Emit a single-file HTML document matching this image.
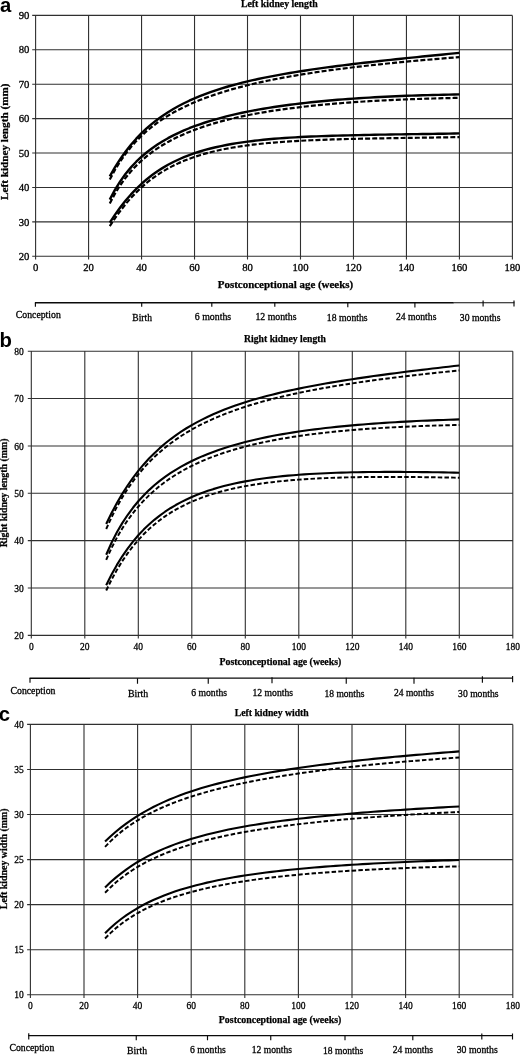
<!DOCTYPE html>
<html lang="en"><head><meta charset="utf-8"><title>Kidney growth charts</title>
<style>
html,body{margin:0;padding:0;background:#fff}
body{width:520px;height:1055px;overflow:hidden}
svg{display:block}
.t{font-family:"Liberation Serif",serif;font-size:10.7px;fill:#000;stroke:#000;stroke-width:.3px}
.t2{font-family:"Liberation Serif",serif;font-size:10.3px;fill:#000;stroke:#000;stroke-width:.3px}
.b{font-family:"Liberation Serif",serif;font-weight:bold;font-size:10.2px;fill:#000;stroke:#000;stroke-width:.25px}
.L{font-family:"Liberation Sans",sans-serif;font-weight:bold;font-size:20.3px;fill:#000}
.cs{fill:none;stroke:#000;stroke-width:1.95;stroke-linejoin:round}
.cd{fill:none;stroke:#000;stroke-width:1.75;stroke-dasharray:4.3 2.4;stroke-linejoin:round}
</style></head><body>
<svg width="520" height="1055" viewBox="0 0 520 1055">
<rect width="520" height="1055" fill="#fff"/>
<g id="chart-a">
<path d="M35.6 15.4V259.5M88.58 15.4V259.5M141.56 15.4V259.5M194.53 15.4V259.5M247.51 15.4V259.5M300.49 15.4V259.5M353.47 15.4V259.5M406.44 15.4V259.5M459.42 15.4V259.5M512.4 15.4V259.5M32.2 256.3H512.4M32.2 221.89H512.4M32.2 187.47H512.4M32.2 153.06H512.4M32.2 118.64H512.4M32.2 84.23H512.4M32.2 49.81H512.4M32.2 15.4H512.4" fill="none" stroke="#303030" stroke-width="1.1"/>
<text class="t" x="18.7" y="259.95" textLength="10.7" lengthAdjust="spacingAndGlyphs">20</text>
<text class="t" x="18.7" y="225.54" textLength="10.7" lengthAdjust="spacingAndGlyphs">30</text>
<text class="t" x="18.7" y="191.12" textLength="10.7" lengthAdjust="spacingAndGlyphs">40</text>
<text class="t" x="18.7" y="156.71" textLength="10.7" lengthAdjust="spacingAndGlyphs">50</text>
<text class="t" x="18.7" y="122.29" textLength="10.7" lengthAdjust="spacingAndGlyphs">60</text>
<text class="t" x="18.7" y="87.88" textLength="10.7" lengthAdjust="spacingAndGlyphs">70</text>
<text class="t" x="18.7" y="53.46" textLength="10.7" lengthAdjust="spacingAndGlyphs">80</text>
<text class="t" x="18.7" y="19.05" textLength="10.7" lengthAdjust="spacingAndGlyphs">90</text>
<text class="t" x="32.93" y="270.9" textLength="5.35" lengthAdjust="spacingAndGlyphs">0</text>
<text class="t" x="83.23" y="270.9" textLength="10.7" lengthAdjust="spacingAndGlyphs">20</text>
<text class="t" x="136.21" y="270.9" textLength="10.7" lengthAdjust="spacingAndGlyphs">40</text>
<text class="t" x="189.18" y="270.9" textLength="10.7" lengthAdjust="spacingAndGlyphs">60</text>
<text class="t" x="242.16" y="270.9" textLength="10.7" lengthAdjust="spacingAndGlyphs">80</text>
<text class="t" x="292.46" y="270.9" textLength="16.05" lengthAdjust="spacingAndGlyphs">100</text>
<text class="t" x="345.44" y="270.9" textLength="16.05" lengthAdjust="spacingAndGlyphs">120</text>
<text class="t" x="398.42" y="270.9" textLength="16.05" lengthAdjust="spacingAndGlyphs">140</text>
<text class="t" x="451.4" y="270.9" textLength="16.05" lengthAdjust="spacingAndGlyphs">160</text>
<text class="t" x="504.38" y="270.9" textLength="16.05" lengthAdjust="spacingAndGlyphs">180</text>
<text class="b" x="240.9" y="6.8" textLength="76.8" lengthAdjust="spacingAndGlyphs">Left kidney length</text>
<text class="b" x="217.8" y="287.9" textLength="135.4" lengthAdjust="spacingAndGlyphs">Postconceptional age (weeks)</text>
<text class="b" transform="translate(7.8 200) rotate(-90)" textLength="116.5" lengthAdjust="spacingAndGlyphs">Left kidney length (mm)</text>
<text class="L" x="0" y="12.1">a</text>
<polyline class="cs" style="stroke-width:2.4" points="109.77,176.47 115.07,167.22 120.36,158.93 125.66,151.47 130.96,144.76 136.26,138.69 141.56,133.2 146.85,128.21 152.15,123.66 157.45,119.51 162.75,115.71 168.04,112.21 173.34,108.99 178.64,106.02 183.94,103.27 189.24,100.72 194.53,98.35 199.83,96.14 205.13,94.07 210.43,92.14 215.72,90.33 221.02,88.62 226.32,87.02 231.62,85.5 236.92,84.07 242.21,82.71 247.51,81.42 252.81,80.19 258.11,79.03 263.4,77.91 268.7,76.84 274,75.82 279.3,74.84 284.6,73.9 289.89,72.99 295.19,72.12 300.49,71.27 305.79,70.46 311.08,69.67 316.38,68.9 321.68,68.15 326.98,67.43 332.28,66.72 337.57,66.03 342.87,65.36 348.17,64.7 353.47,64.06 358.76,63.42 364.06,62.8 369.36,62.2 374.66,61.6 379.96,61.01 385.25,60.43 390.55,59.85 395.85,59.29 401.15,58.73 406.44,58.18 411.74,57.63 417.04,57.09 422.34,56.55 427.64,56.02 432.93,55.49 438.23,54.97 443.53,54.45 448.83,53.93 454.12,53.42 459.42,52.9"/>
<polyline class="cd" style="stroke-width:2.2;stroke-dasharray:5 2.1" points="109.77,179.59 115.07,169.76 120.36,161.21 125.66,153.7 130.96,147.06 136.26,141.13 141.56,135.81 146.85,131.01 152.15,126.65 157.45,122.67 162.75,119.03 168.04,115.68 173.34,112.58 178.64,109.72 183.94,107.06 189.24,104.58 194.53,102.26 199.83,100.08 205.13,98.04 210.43,96.12 215.72,94.31 221.02,92.6 226.32,90.97 231.62,89.43 236.92,87.97 242.21,86.58 247.51,85.25 252.81,83.98 258.11,82.77 263.4,81.61 268.7,80.5 274,79.44 279.3,78.41 284.6,77.43 289.89,76.48 295.19,75.56 300.49,74.68 305.79,73.83 311.08,73 316.38,72.21 321.68,71.44 326.98,70.69 332.28,69.96 337.57,69.26 342.87,68.58 348.17,67.92 353.47,67.27 358.76,66.64 364.06,66.03 369.36,65.43 374.66,64.85 379.96,64.29 385.25,63.73 390.55,63.19 395.85,62.66 401.15,62.15 406.44,61.64 411.74,61.15 417.04,60.67 422.34,60.19 427.64,59.73 432.93,59.27 438.23,58.83 443.53,58.39 448.83,57.96 454.12,57.54 459.42,57.12"/>
<polyline class="cs" style="stroke-width:2.4" points="109.77,199.58 115.07,189.62 120.36,181.12 125.66,173.78 130.96,167.38 136.26,161.73 141.56,156.72 146.85,152.24 152.15,148.2 157.45,144.55 162.75,141.22 168.04,138.18 173.34,135.39 178.64,132.82 183.94,130.44 189.24,128.24 194.53,126.19 199.83,124.29 205.13,122.5 210.43,120.84 215.72,119.28 221.02,117.81 226.32,116.43 231.62,115.13 236.92,113.91 242.21,112.75 247.51,111.66 252.81,110.63 258.11,109.65 263.4,108.72 268.7,107.85 274,107.02 279.3,106.23 284.6,105.48 289.89,104.77 295.19,104.1 300.49,103.46 305.79,102.85 311.08,102.28 316.38,101.73 321.68,101.21 326.98,100.71 332.28,100.25 337.57,99.8 342.87,99.38 348.17,98.98 353.47,98.6 358.76,98.24 364.06,97.91 369.36,97.59 374.66,97.28 379.96,97 385.25,96.73 390.55,96.48 395.85,96.24 401.15,96.02 406.44,95.81 411.74,95.61 417.04,95.43 422.34,95.26 427.64,95.11 432.93,94.96 438.23,94.83 443.53,94.71 448.83,94.6 454.12,94.5 459.42,94.41"/>
<polyline class="cd" style="stroke-width:2.2;stroke-dasharray:5 2.1" points="109.77,203.42 115.07,193.53 120.36,185.05 125.66,177.72 130.96,171.3 136.26,165.64 141.56,160.6 146.85,156.09 152.15,152.02 157.45,148.34 162.75,144.99 168.04,141.92 173.34,139.11 178.64,136.52 183.94,134.13 189.24,131.91 194.53,129.85 199.83,127.93 205.13,126.14 210.43,124.47 215.72,122.9 221.02,121.43 226.32,120.05 231.62,118.75 236.92,117.52 242.21,116.36 247.51,115.27 252.81,114.24 258.11,113.26 263.4,112.34 268.7,111.46 274,110.63 279.3,109.85 284.6,109.1 289.89,108.39 295.19,107.72 300.49,107.08 305.79,106.47 311.08,105.9 316.38,105.35 321.68,104.83 326.98,104.34 332.28,103.87 337.57,103.42 342.87,103 348.17,102.6 353.47,102.22 358.76,101.85 364.06,101.51 369.36,101.19 374.66,100.88 379.96,100.59 385.25,100.32 390.55,100.06 395.85,99.81 401.15,99.58 406.44,99.37 411.74,99.16 417.04,98.98 422.34,98.8 427.64,98.63 432.93,98.48 438.23,98.33 443.53,98.2 448.83,98.08 454.12,97.97 459.42,97.87"/>
<polyline class="cs" style="stroke-width:2.4" points="109.77,222.56 115.07,214.64 120.36,207.29 125.66,200.56 130.96,194.42 136.26,188.84 141.56,183.78 146.85,179.19 152.15,175.04 157.45,171.28 162.75,167.88 168.04,164.8 173.34,162.01 178.64,159.48 183.94,157.18 189.24,155.1 194.53,153.21 199.83,151.5 205.13,149.94 210.43,148.52 215.72,147.23 221.02,146.06 226.32,145 231.62,144.03 236.92,143.14 242.21,142.34 247.51,141.61 252.81,140.94 258.11,140.33 263.4,139.78 268.7,139.28 274,138.82 279.3,138.4 284.6,138.02 289.89,137.67 295.19,137.35 300.49,137.06 305.79,136.8 311.08,136.55 316.38,136.33 321.68,136.13 326.98,135.94 332.28,135.77 337.57,135.61 342.87,135.46 348.17,135.33 353.47,135.2 358.76,135.08 364.06,134.97 369.36,134.87 374.66,134.77 379.96,134.67 385.25,134.58 390.55,134.5 395.85,134.41 401.15,134.33 406.44,134.25 411.74,134.17 417.04,134.09 422.34,134.01 427.64,133.93 432.93,133.85 438.23,133.76 443.53,133.68 448.83,133.6 454.12,133.51 459.42,133.42"/>
<polyline class="cd" style="stroke-width:2.2;stroke-dasharray:5 2.1" points="109.77,226.13 115.07,218.15 120.36,210.78 125.66,204.04 130.96,197.91 136.26,192.34 141.56,187.3 146.85,182.73 152.15,178.6 157.45,174.86 162.75,171.48 168.04,168.42 173.34,165.64 178.64,163.13 183.94,160.85 189.24,158.78 194.53,156.9 199.83,155.19 205.13,153.64 210.43,152.23 215.72,150.95 221.02,149.78 226.32,148.72 231.62,147.75 236.92,146.87 242.21,146.07 247.51,145.34 252.81,144.67 258.11,144.06 263.4,143.51 268.7,143 274,142.54 279.3,142.12 284.6,141.74 289.89,141.39 295.19,141.07 300.49,140.77 305.79,140.51 311.08,140.26 316.38,140.04 321.68,139.83 326.98,139.64 332.28,139.47 337.57,139.31 342.87,139.16 348.17,139.02 353.47,138.89 358.76,138.77 364.06,138.66 369.36,138.56 374.66,138.46 379.96,138.36 385.25,138.27 390.55,138.18 395.85,138.1 401.15,138.01 406.44,137.93 411.74,137.85 417.04,137.77 422.34,137.69 427.64,137.62 432.93,137.54 438.23,137.46 443.53,137.37 448.83,137.29 454.12,137.21 459.42,137.12"/>
<path d="M34.9 302.7H453.8" stroke="#0a0a0a" stroke-width="1.6" fill="none"/>
<path d="M453.8 302.7H514.4" stroke="#0a0a0a" stroke-width="1.15" fill="none"/>
<path d="M35.4 302.7V306.7M141.7 302.7V306.7M211.8 302.2V306.7M274.8 302.2V306.7M347.8 302.2V307.2M414.9 302.2V307.5M483.1 300.5V306.5M514 300.5V306.5" stroke="#0a0a0a" stroke-width="1.15" fill="none"/>
<text class="t2" x="15.8" y="318" textLength="45" lengthAdjust="spacingAndGlyphs">Conception</text>
<text class="t2" x="132.3" y="320.6" textLength="19.6" lengthAdjust="spacingAndGlyphs">Birth</text>
<text class="t2" x="194.8" y="320" textLength="36.4" lengthAdjust="spacingAndGlyphs">6 months</text>
<text class="t2" x="255.4" y="320" textLength="41.2" lengthAdjust="spacingAndGlyphs">12 months</text>
<text class="t2" x="326.8" y="321.3" textLength="40.8" lengthAdjust="spacingAndGlyphs">18 months</text>
<text class="t2" x="395.9" y="320.4" textLength="40.5" lengthAdjust="spacingAndGlyphs">24 months</text>
<text class="t2" x="459.8" y="321" textLength="40.7" lengthAdjust="spacingAndGlyphs">30 months</text>
</g>
<g id="chart-b">
<path d="M31.3 351.2V638.6M84.8 351.2V638.6M138.3 351.2V638.6M191.8 351.2V638.6M245.3 351.2V638.6M298.8 351.2V638.6M352.3 351.2V638.6M405.8 351.2V638.6M459.3 351.2V638.6M512.8 351.2V638.6M27.8 635.4H512.8M27.8 588.03H512.8M27.8 540.67H512.8M27.8 493.3H512.8M27.8 445.93H512.8M27.8 398.57H512.8M27.8 351.2H512.8" fill="none" stroke="#303030" stroke-width="1.1"/>
<text class="t" x="14.2" y="639.05" textLength="9.5" lengthAdjust="spacingAndGlyphs">20</text>
<text class="t" x="14.2" y="591.68" textLength="9.5" lengthAdjust="spacingAndGlyphs">30</text>
<text class="t" x="14.2" y="544.32" textLength="9.5" lengthAdjust="spacingAndGlyphs">40</text>
<text class="t" x="14.2" y="496.95" textLength="9.5" lengthAdjust="spacingAndGlyphs">50</text>
<text class="t" x="14.2" y="449.58" textLength="9.5" lengthAdjust="spacingAndGlyphs">60</text>
<text class="t" x="14.2" y="402.22" textLength="9.5" lengthAdjust="spacingAndGlyphs">70</text>
<text class="t" x="14.2" y="354.85" textLength="9.5" lengthAdjust="spacingAndGlyphs">80</text>
<text class="t" x="28.93" y="649.8" textLength="4.75" lengthAdjust="spacingAndGlyphs">0</text>
<text class="t" x="80.05" y="649.8" textLength="9.5" lengthAdjust="spacingAndGlyphs">20</text>
<text class="t" x="133.55" y="649.8" textLength="9.5" lengthAdjust="spacingAndGlyphs">40</text>
<text class="t" x="187.05" y="649.8" textLength="9.5" lengthAdjust="spacingAndGlyphs">60</text>
<text class="t" x="240.55" y="649.8" textLength="9.5" lengthAdjust="spacingAndGlyphs">80</text>
<text class="t" x="291.68" y="649.8" textLength="14.25" lengthAdjust="spacingAndGlyphs">100</text>
<text class="t" x="345.18" y="649.8" textLength="14.25" lengthAdjust="spacingAndGlyphs">120</text>
<text class="t" x="398.68" y="649.8" textLength="14.25" lengthAdjust="spacingAndGlyphs">140</text>
<text class="t" x="452.18" y="649.8" textLength="14.25" lengthAdjust="spacingAndGlyphs">160</text>
<text class="t" x="505.67" y="649.8" textLength="14.25" lengthAdjust="spacingAndGlyphs">180</text>
<text class="b" x="244.1" y="341.8" textLength="81.8" lengthAdjust="spacingAndGlyphs">Right kidney length</text>
<text class="b" x="219.5" y="664.9" textLength="121.8" lengthAdjust="spacingAndGlyphs">Postconceptional age (weeks)</text>
<text class="b" transform="translate(7.1 547.3) rotate(-90)" textLength="108.8" lengthAdjust="spacingAndGlyphs">Right kidney length (mm)</text>
<text class="L" x="-0.6" y="347">b</text>
<polyline class="cs" style="stroke-width:2.1" points="106.2,523.98 111.55,513.06 116.9,503.04 122.25,493.89 127.6,485.52 132.95,477.87 138.3,470.87 143.65,464.45 149,458.57 154.35,453.15 159.7,448.16 165.05,443.55 170.4,439.29 175.75,435.34 181.1,431.67 186.45,428.26 191.8,425.07 197.15,422.1 202.5,419.32 207.85,416.71 213.2,414.26 218.55,411.96 223.9,409.78 229.25,407.73 234.6,405.79 239.95,403.95 245.3,402.21 250.65,400.56 256,398.98 261.35,397.48 266.7,396.04 272.05,394.67 277.4,393.36 282.75,392.1 288.1,390.89 293.45,389.73 298.8,388.61 304.15,387.52 309.5,386.48 314.85,385.47 320.2,384.5 325.55,383.55 330.9,382.63 336.25,381.74 341.6,380.87 346.95,380.02 352.3,379.2 357.65,378.39 363,377.61 368.35,376.84 373.7,376.08 379.05,375.34 384.4,374.62 389.75,373.9 395.1,373.2 400.45,372.51 405.8,371.83 411.15,371.16 416.5,370.5 421.85,369.85 427.2,369.2 432.55,368.56 437.9,367.93 443.25,367.31 448.6,366.69 453.95,366.08 459.3,365.47"/>
<polyline class="cd" style="stroke-width:1.95;stroke-dasharray:4.5 2.2" points="106.2,528.98 111.55,517.25 116.9,506.79 122.25,497.41 127.6,488.97 132.95,481.34 138.3,474.41 143.65,468.1 149,462.33 154.35,457.03 159.7,452.16 165.05,447.66 170.4,443.5 175.75,439.64 181.1,436.04 186.45,432.69 191.8,429.56 197.15,426.62 202.5,423.87 207.85,421.28 213.2,418.84 218.55,416.54 223.9,414.37 229.25,412.31 234.6,410.35 239.95,408.5 245.3,406.73 250.65,405.05 256,403.45 261.35,401.92 266.7,400.46 272.05,399.06 277.4,397.72 282.75,396.43 288.1,395.19 293.45,394 298.8,392.86 304.15,391.76 309.5,390.69 314.85,389.67 320.2,388.68 325.55,387.72 330.9,386.79 336.25,385.89 341.6,385.02 346.95,384.17 352.3,383.35 357.65,382.55 363,381.77 368.35,381.01 373.7,380.28 379.05,379.56 384.4,378.86 389.75,378.17 395.1,377.51 400.45,376.85 405.8,376.21 411.15,375.59 416.5,374.98 421.85,374.38 427.2,373.79 432.55,373.21 437.9,372.65 443.25,372.09 448.6,371.55 453.95,371.01 459.3,370.48"/>
<polyline class="cs" style="stroke-width:2.1" points="106.2,554.78 111.55,542.78 116.9,532.33 122.25,523.14 127.6,515.01 132.95,507.77 138.3,501.27 143.65,495.42 149,490.12 154.35,485.31 159.7,480.91 165.05,476.89 170.4,473.19 175.75,469.79 181.1,466.64 186.45,463.73 191.8,461.02 197.15,458.51 202.5,456.16 207.85,453.98 213.2,451.93 218.55,450.01 223.9,448.22 229.25,446.53 234.6,444.94 239.95,443.45 245.3,442.04 250.65,440.71 256,439.46 261.35,438.27 266.7,437.15 272.05,436.09 277.4,435.09 282.75,434.14 288.1,433.23 293.45,432.38 298.8,431.56 304.15,430.79 309.5,430.06 314.85,429.36 320.2,428.7 325.55,428.07 330.9,427.48 336.25,426.91 341.6,426.37 346.95,425.85 352.3,425.36 357.65,424.9 363,424.45 368.35,424.03 373.7,423.63 379.05,423.25 384.4,422.89 389.75,422.54 395.1,422.22 400.45,421.91 405.8,421.61 411.15,421.33 416.5,421.07 421.85,420.82 427.2,420.58 432.55,420.36 437.9,420.14 443.25,419.94 448.6,419.76 453.95,419.58 459.3,419.41"/>
<polyline class="cd" style="stroke-width:1.95;stroke-dasharray:4.5 2.2" points="106.2,559.78 111.55,547.96 116.9,537.61 122.25,528.48 127.6,520.37 132.95,513.11 138.3,506.59 143.65,500.7 149,495.36 154.35,490.49 159.7,486.04 165.05,481.96 170.4,478.21 175.75,474.75 181.1,471.55 186.45,468.58 191.8,465.83 197.15,463.27 202.5,460.88 207.85,458.65 213.2,456.57 218.55,454.62 223.9,452.79 229.25,451.08 234.6,449.47 239.95,447.95 245.3,446.53 250.65,445.18 256,443.92 261.35,442.72 266.7,441.6 272.05,440.53 277.4,439.53 282.75,438.58 288.1,437.68 293.45,436.83 298.8,436.03 304.15,435.27 309.5,434.55 314.85,433.87 320.2,433.23 325.55,432.62 330.9,432.04 336.25,431.5 341.6,430.98 346.95,430.49 352.3,430.03 357.65,429.6 363,429.19 368.35,428.8 373.7,428.44 379.05,428.1 384.4,427.77 389.75,427.47 395.1,427.18 400.45,426.92 405.8,426.67 411.15,426.43 416.5,426.22 421.85,426.01 427.2,425.83 432.55,425.65 437.9,425.49 443.25,425.35 448.6,425.21 453.95,425.09 459.3,424.98"/>
<polyline class="cs" style="stroke-width:2.1" points="106.2,585.18 111.55,574.49 116.9,564.9 122.25,556.28 127.6,548.54 132.95,541.57 138.3,535.28 143.65,529.6 149,524.47 154.35,519.81 159.7,515.58 165.05,511.73 170.4,508.23 175.75,505.04 181.1,502.12 186.45,499.45 191.8,497.01 197.15,494.78 202.5,492.73 207.85,490.85 213.2,489.13 218.55,487.55 223.9,486.09 229.25,484.76 234.6,483.53 239.95,482.4 245.3,481.37 250.65,480.42 256,479.54 261.35,478.74 266.7,478.01 272.05,477.34 277.4,476.72 282.75,476.16 288.1,475.65 293.45,475.18 298.8,474.75 304.15,474.37 309.5,474.02 314.85,473.71 320.2,473.43 325.55,473.18 330.9,472.95 336.25,472.76 341.6,472.58 346.95,472.43 352.3,472.31 357.65,472.2 363,472.11 368.35,472.04 373.7,471.98 379.05,471.94 384.4,471.92 389.75,471.91 395.1,471.91 400.45,471.92 405.8,471.95 411.15,471.98 416.5,472.03 421.85,472.08 427.2,472.15 432.55,472.22 437.9,472.3 443.25,472.39 448.6,472.48 453.95,472.58 459.3,472.68"/>
<polyline class="cd" style="stroke-width:1.95;stroke-dasharray:4.5 2.2" points="106.2,590.55 111.55,579.64 116.9,569.89 122.25,561.16 127.6,553.33 132.95,546.3 138.3,539.97 143.65,534.26 149,529.11 154.35,524.44 159.7,520.2 165.05,516.36 170.4,512.85 175.75,509.67 181.1,506.76 186.45,504.1 191.8,501.67 197.15,499.45 202.5,497.41 207.85,495.54 213.2,493.83 218.55,492.26 223.9,490.82 229.25,489.49 234.6,488.28 239.95,487.16 245.3,486.14 250.65,485.2 256,484.34 261.35,483.55 266.7,482.83 272.05,482.17 277.4,481.56 282.75,481.01 288.1,480.51 293.45,480.05 298.8,479.63 304.15,479.26 309.5,478.92 314.85,478.61 320.2,478.34 325.55,478.1 330.9,477.88 336.25,477.69 341.6,477.53 346.95,477.39 352.3,477.27 357.65,477.16 363,477.08 368.35,477.02 373.7,476.97 379.05,476.94 384.4,476.92 389.75,476.91 395.1,476.92 400.45,476.94 405.8,476.97 411.15,477.01 416.5,477.06 421.85,477.12 427.2,477.19 432.55,477.27 437.9,477.35 443.25,477.45 448.6,477.54 453.95,477.65 459.3,477.76"/>
<path d="M29.5 678.2H90" stroke="#0a0a0a" stroke-width="1.55" fill="none"/>
<path d="M90 678.2H513" stroke="#0a0a0a" stroke-width="1.3" fill="none"/>
<path d="M30 678.2V682.8M137.5 678.2V683.7M208.25 678.2V683.7M272 677.2V683.2M346.25 677.7V683.7M414 677.7V683.7M482.4 676.2V682.7M512.6 676V682.2" stroke="#0a0a0a" stroke-width="1.15" fill="none"/>
<text class="t2" x="10.5" y="693.75" textLength="45" lengthAdjust="spacingAndGlyphs">Conception</text>
<text class="t2" x="128" y="696.75" textLength="20.25" lengthAdjust="spacingAndGlyphs">Birth</text>
<text class="t2" x="191.25" y="695.75" textLength="35.75" lengthAdjust="spacingAndGlyphs">6 months</text>
<text class="t2" x="252.5" y="695.75" textLength="40.5" lengthAdjust="spacingAndGlyphs">12 months</text>
<text class="t2" x="324.5" y="697" textLength="40" lengthAdjust="spacingAndGlyphs">18 months</text>
<text class="t2" x="394" y="695.9" textLength="39.9" lengthAdjust="spacingAndGlyphs">24 months</text>
<text class="t2" x="458.1" y="696.7" textLength="40.4" lengthAdjust="spacingAndGlyphs">30 months</text>
</g>
<g id="chart-c">
<path d="M30.4 724.4V998M84 724.4V998M137.6 724.4V998M191.2 724.4V998M244.8 724.4V998M298.4 724.4V998M352 724.4V998M405.6 724.4V998M459.2 724.4V998M512.8 724.4V998M27.1 994.8H512.8M27.1 949.73H512.8M27.1 904.67H512.8M27.1 859.6H512.8M27.1 814.53H512.8M27.1 769.47H512.8M27.1 724.4H512.8" fill="none" stroke="#303030" stroke-width="1.1"/>
<text class="t" x="14.2" y="998.45" textLength="9.5" lengthAdjust="spacingAndGlyphs">10</text>
<text class="t" x="14.2" y="953.38" textLength="9.5" lengthAdjust="spacingAndGlyphs">15</text>
<text class="t" x="14.2" y="908.32" textLength="9.5" lengthAdjust="spacingAndGlyphs">20</text>
<text class="t" x="14.2" y="863.25" textLength="9.5" lengthAdjust="spacingAndGlyphs">25</text>
<text class="t" x="14.2" y="818.18" textLength="9.5" lengthAdjust="spacingAndGlyphs">30</text>
<text class="t" x="14.2" y="773.12" textLength="9.5" lengthAdjust="spacingAndGlyphs">35</text>
<text class="t" x="14.2" y="728.05" textLength="9.5" lengthAdjust="spacingAndGlyphs">40</text>
<text class="t" x="28.02" y="1009.1" textLength="4.75" lengthAdjust="spacingAndGlyphs">0</text>
<text class="t" x="79.25" y="1009.1" textLength="9.5" lengthAdjust="spacingAndGlyphs">20</text>
<text class="t" x="132.85" y="1009.1" textLength="9.5" lengthAdjust="spacingAndGlyphs">40</text>
<text class="t" x="186.45" y="1009.1" textLength="9.5" lengthAdjust="spacingAndGlyphs">60</text>
<text class="t" x="240.05" y="1009.1" textLength="9.5" lengthAdjust="spacingAndGlyphs">80</text>
<text class="t" x="291.27" y="1009.1" textLength="14.25" lengthAdjust="spacingAndGlyphs">100</text>
<text class="t" x="344.87" y="1009.1" textLength="14.25" lengthAdjust="spacingAndGlyphs">120</text>
<text class="t" x="398.47" y="1009.1" textLength="14.25" lengthAdjust="spacingAndGlyphs">140</text>
<text class="t" x="452.07" y="1009.1" textLength="14.25" lengthAdjust="spacingAndGlyphs">160</text>
<text class="t" x="505.67" y="1009.1" textLength="14.25" lengthAdjust="spacingAndGlyphs">180</text>
<text class="b" x="234.8" y="715.8" textLength="73.9" lengthAdjust="spacingAndGlyphs">Left kidney width</text>
<text class="b" x="218.8" y="1023.2" textLength="122.5" lengthAdjust="spacingAndGlyphs">Postconceptional age (weeks)</text>
<text class="b" transform="translate(7.1 909.2) rotate(-90)" textLength="100.7" lengthAdjust="spacingAndGlyphs">Left kidney width (mm)</text>
<text class="L" x="-1.2" y="721">c</text>
<polyline class="cs" style="stroke-width:2.1" points="105.04,841.58 110.4,836.51 115.77,831.8 121.14,827.42 126.5,823.37 131.87,819.61 137.23,816.11 142.6,812.86 147.97,809.83 153.33,807.01 158.7,804.36 164.06,801.88 169.43,799.56 174.8,797.37 180.16,795.3 185.53,793.35 190.9,791.51 196.26,789.77 201.63,788.11 206.99,786.54 212.36,785.04 217.73,783.62 223.09,782.26 228.46,780.95 233.82,779.71 239.19,778.52 244.56,777.37 249.92,776.28 255.29,775.22 260.65,774.21 266.02,773.23 271.39,772.28 276.75,771.37 282.12,770.49 287.49,769.64 292.85,768.82 298.22,768.02 303.58,767.25 308.95,766.5 314.32,765.77 319.68,765.06 325.05,764.38 330.41,763.71 335.78,763.05 341.15,762.42 346.51,761.8 351.88,761.19 357.24,760.6 362.61,760.03 367.98,759.47 373.34,758.91 378.71,758.38 384.07,757.85 389.44,757.33 394.81,756.82 400.17,756.33 405.54,755.84 410.91,755.36 416.27,754.89 421.64,754.43 427,753.98 432.37,753.54 437.74,753.1 443.1,752.67 448.47,752.24 453.83,751.83 459.2,751.41"/>
<polyline class="cd" style="stroke-width:1.95;stroke-dasharray:4.5 2.2" points="105.04,846.93 110.4,841.37 115.77,836.37 121.14,831.86 126.5,827.76 131.87,824.01 137.23,820.56 142.6,817.38 147.97,814.43 153.33,811.69 158.7,809.13 164.06,806.73 169.43,804.48 174.8,802.37 180.16,800.38 185.53,798.49 190.9,796.71 196.26,795.01 201.63,793.4 206.99,791.87 212.36,790.41 217.73,789.01 223.09,787.67 228.46,786.39 233.82,785.17 239.19,783.99 244.56,782.86 249.92,781.78 255.29,780.73 260.65,779.72 266.02,778.75 271.39,777.81 276.75,776.9 282.12,776.03 287.49,775.18 292.85,774.36 298.22,773.56 303.58,772.79 308.95,772.05 314.32,771.32 319.68,770.62 325.05,769.93 330.41,769.27 335.78,768.62 341.15,767.99 346.51,767.38 351.88,766.79 357.24,766.21 362.61,765.64 367.98,765.09 373.34,764.55 378.71,764.03 384.07,763.52 389.44,763.02 394.81,762.53 400.17,762.05 405.54,761.59 410.91,761.13 416.27,760.69 421.64,760.25 427,759.83 432.37,759.41 437.74,759 443.1,758.6 448.47,758.21 453.83,757.83 459.2,757.46"/>
<polyline class="cs" style="stroke-width:2.1" points="105.04,887.4 110.4,882.33 115.77,877.64 121.14,873.31 126.5,869.32 131.87,865.63 137.23,862.23 142.6,859.08 147.97,856.17 153.33,853.46 158.7,850.95 164.06,848.61 169.43,846.43 174.8,844.38 180.16,842.47 185.53,840.68 190.9,839 196.26,837.42 201.63,835.92 206.99,834.51 212.36,833.18 217.73,831.92 223.09,830.73 228.46,829.59 233.82,828.52 239.19,827.49 244.56,826.52 249.92,825.58 255.29,824.7 260.65,823.85 266.02,823.03 271.39,822.25 276.75,821.51 282.12,820.79 287.49,820.1 292.85,819.44 298.22,818.8 303.58,818.18 308.95,817.59 314.32,817.02 319.68,816.47 325.05,815.93 330.41,815.42 335.78,814.92 341.15,814.43 346.51,813.96 351.88,813.51 357.24,813.07 362.61,812.64 367.98,812.22 373.34,811.81 378.71,811.42 384.07,811.03 389.44,810.65 394.81,810.29 400.17,809.93 405.54,809.58 410.91,809.24 416.27,808.91 421.64,808.58 427,808.26 432.37,807.95 437.74,807.64 443.1,807.34 448.47,807.05 453.83,806.76 459.2,806.48"/>
<polyline class="cd" style="stroke-width:1.95;stroke-dasharray:4.5 2.2" points="105.04,892.78 110.4,887.42 115.77,882.57 121.14,878.18 126.5,874.18 131.87,870.52 137.23,867.17 142.6,864.08 147.97,861.23 153.33,858.6 158.7,856.14 164.06,853.86 169.43,851.73 174.8,849.74 180.16,847.87 185.53,846.11 190.9,844.46 196.26,842.9 201.63,841.43 206.99,840.04 212.36,838.72 217.73,837.46 223.09,836.27 228.46,835.14 233.82,834.06 239.19,833.04 244.56,832.05 249.92,831.11 255.29,830.22 260.65,829.36 266.02,828.53 271.39,827.74 276.75,826.98 282.12,826.25 287.49,825.55 292.85,824.88 298.22,824.23 303.58,823.6 308.95,823 314.32,822.41 319.68,821.85 325.05,821.31 330.41,820.78 335.78,820.27 341.15,819.78 346.51,819.3 351.88,818.84 357.24,818.4 362.61,817.96 367.98,817.54 373.34,817.14 378.71,816.74 384.07,816.36 389.44,815.98 394.81,815.62 400.17,815.27 405.54,814.92 410.91,814.59 416.27,814.27 421.64,813.95 427,813.64 432.37,813.34 437.74,813.05 443.1,812.77 448.47,812.49 453.83,812.22 459.2,811.96"/>
<polyline class="cs" style="stroke-width:2.1" points="105.04,933.2 110.4,927.99 115.77,923.27 121.14,918.99 126.5,915.1 131.87,911.54 137.23,908.29 142.6,905.3 147.97,902.56 153.33,900.02 158.7,897.68 164.06,895.51 169.43,893.49 174.8,891.61 180.16,889.86 185.53,888.23 190.9,886.7 196.26,885.26 201.63,883.91 206.99,882.64 212.36,881.45 217.73,880.32 223.09,879.26 228.46,878.26 233.82,877.31 239.19,876.4 244.56,875.55 249.92,874.74 255.29,873.97 260.65,873.24 266.02,872.54 271.39,871.87 276.75,871.24 282.12,870.64 287.49,870.06 292.85,869.51 298.22,868.98 303.58,868.48 308.95,867.99 314.32,867.53 319.68,867.09 325.05,866.67 330.41,866.26 335.78,865.87 341.15,865.49 346.51,865.13 351.88,864.79 357.24,864.46 362.61,864.14 367.98,863.83 373.34,863.53 378.71,863.25 384.07,862.97 389.44,862.71 394.81,862.46 400.17,862.21 405.54,861.98 410.91,861.75 416.27,861.53 421.64,861.32 427,861.11 432.37,860.92 437.74,860.73 443.1,860.54 448.47,860.37 453.83,860.2 459.2,860.03"/>
<polyline class="cd" style="stroke-width:1.95;stroke-dasharray:4.5 2.2" points="105.04,938.49 110.4,933.12 115.77,928.32 121.14,924.01 126.5,920.11 131.87,916.57 137.23,913.34 142.6,910.39 147.97,907.69 153.33,905.19 158.7,902.89 164.06,900.76 169.43,898.78 174.8,896.94 180.16,895.22 185.53,893.62 190.9,892.12 196.26,890.71 201.63,889.39 206.99,888.14 212.36,886.97 217.73,885.87 223.09,884.82 228.46,883.84 233.82,882.9 239.19,882.02 244.56,881.18 249.92,880.38 255.29,879.62 260.65,878.9 266.02,878.22 271.39,877.57 276.75,876.95 282.12,876.36 287.49,875.79 292.85,875.25 298.22,874.74 303.58,874.25 308.95,873.78 314.32,873.33 319.68,872.9 325.05,872.49 330.41,872.09 335.78,871.72 341.15,871.36 346.51,871.01 351.88,870.68 357.24,870.37 362.61,870.06 367.98,869.77 373.34,869.49 378.71,869.23 384.07,868.97 389.44,868.73 394.81,868.49 400.17,868.27 405.54,868.05 410.91,867.85 416.27,867.65 421.64,867.46 427,867.28 432.37,867.11 437.74,866.94 443.1,866.78 448.47,866.63 453.83,866.49 459.2,866.35"/>
<path d="M28.2 1035.6H391" stroke="#0a0a0a" stroke-width="1.45" fill="none"/>
<path d="M391 1035.6H513" stroke="#0a0a0a" stroke-width="1.15" fill="none"/>
<path d="M28.75 1033.3V1039.6M136.25 1035.6V1040.2M207.5 1035.6V1040.2M270.75 1035.6V1040.2M345 1035.6V1040.2M412.8 1035.6V1040.2M481.8 1033.6V1039.6M512.5 1033.4V1039.6" stroke="#0a0a0a" stroke-width="1.15" fill="none"/>
<text class="t2" x="9.5" y="1050.5" textLength="44.75" lengthAdjust="spacingAndGlyphs">Conception</text>
<text class="t2" x="127" y="1053.75" textLength="20" lengthAdjust="spacingAndGlyphs">Birth</text>
<text class="t2" x="190" y="1052.5" textLength="35.75" lengthAdjust="spacingAndGlyphs">6 months</text>
<text class="t2" x="251.75" y="1052.5" textLength="40.25" lengthAdjust="spacingAndGlyphs">12 months</text>
<text class="t2" x="323" y="1054" textLength="40.25" lengthAdjust="spacingAndGlyphs">18 months</text>
<text class="t2" x="392.7" y="1052.5" textLength="40.3" lengthAdjust="spacingAndGlyphs">24 months</text>
<text class="t2" x="456.7" y="1053" textLength="41" lengthAdjust="spacingAndGlyphs">30 months</text>
</g>
</svg>
</body></html>
